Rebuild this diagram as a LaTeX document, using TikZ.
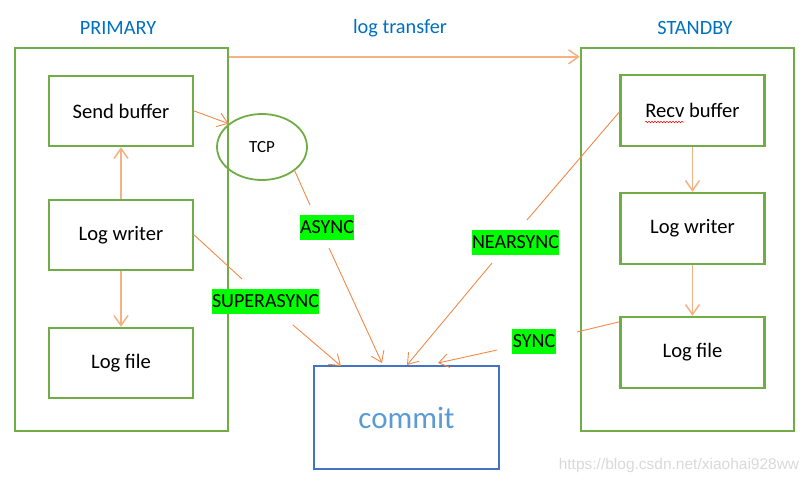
\documentclass[tikz,border=0pt]{standalone}
\usepackage{fontspec}
\setmainfont{Carlito}
\newfontfamily\wmfont{Liberation Sans}
\usetikzlibrary{arrows.meta,shapes.geometric,decorations.pathmorphing}
\definecolor{boxgreen}{HTML}{70AD47}
\definecolor{arrowor}{HTML}{F08A4B}
\definecolor{arrowlt}{HTML}{F4B183}
\definecolor{titleblue}{HTML}{0070C0}
\definecolor{commitblue}{HTML}{4472C4}
\definecolor{committext}{HTML}{5B9BD5}
\definecolor{labelgreen}{HTML}{00FF00}
\definecolor{wmgray}{HTML}{D9D9D9}
\begin{document}
\begin{tikzpicture}[x=1pt,y=-1pt,
 outerbox/.style={draw=boxgreen,line width=2.4pt,minimum width=213pt,minimum height=383pt,inner sep=0pt},
 innerbox/.style={draw=boxgreen,line width=2.4pt,minimum width=144pt,minimum height=70pt,font=\fontsize{20.6}{24}\selectfont,inner sep=0pt},
 titletext/.style={text=titleblue,font=\fontsize{20.3}{24}\selectfont,inner sep=0pt},
 modelabel/.style={fill=labelgreen,font=\fontsize{20}{24}\selectfont,inner xsep=0.5pt,inner ysep=0pt,minimum height=25pt},
 conn/.style={draw=arrowor,line width=0.9pt},
 flow/.style={draw=arrowlt,line width=1.5pt},
 tipv/.style={-{Straight Barb[length=10pt,width=14pt]}}
]
\useasboundingbox (0,0) rectangle (812,483);

% titles
\node[titletext] (ptitle) at (118,28) {PRIMARY};
\node[titletext] (ltitle) at (400,28) {log transfer};
\node[titletext] (stitle) at (695,28) {STANDBY};

% outer boxes
\node[outerbox] (P) at (121.5,239.5) {};
\node[outerbox] (S) at (687.5,239.5) {};

% primary inner boxes
\node[innerbox] (sb1) at (121,111) {\raisebox{-1.5pt}{Send buffer}};
\node[innerbox] (lw1) at (121,235) {\raisebox{-1.5pt}{Log writer}};
\node[innerbox] (lf1) at (121,363) {\raisebox{-1.5pt}{Log file}};

% standby inner boxes
\node[innerbox,minimum height=71pt] (rb) at (692.5,110.5) {\raisebox{-1pt}{Recv buffer}};
\node[innerbox,minimum height=71pt] (lw2) at (692.5,228.5) {\raisebox{-1.5pt}{Log writer}};
\node[innerbox,minimum height=71pt] (lf2) at (692.5,352.5) {\raisebox{-1.5pt}{Log file}};

% spell-check underline under "Recv"
\coordinate (wv1) at (645,122);
\coordinate (wv2) at (684,122);
\draw[red,line width=0.5pt,decorate,decoration={snake,amplitude=0.8pt,segment length=3pt}] (wv1) -- (wv2);

% TCP
\node[ellipse,draw=boxgreen,line width=1.8pt,minimum width=90pt,minimum height=66pt,inner sep=0pt,font=\fontsize{17}{20}\selectfont] (tcp) at (262,147) {TCP};

% commit
\node[draw=commitblue,line width=1.8pt,minimum width=185pt,minimum height=103pt,inner sep=0pt,text=committext,font=\fontsize{31}{36}\selectfont] (commit) at (406.5,417.5) {commit};

% mode labels
\node[modelabel] (async) at (327,227) {ASYNC};
\node[modelabel] (nearsync) at (515.5,242) {NEARSYNC};
\node[modelabel] (superasync) at (265.5,301.5) {SUPERASYNC};
\node[modelabel] (sync) at (534,341) {SYNC};

% flows inside boxes
\draw[flow,tipv] (lw1.north) -- (sb1.south);
\draw[flow,tipv] (lw1.south) -- (lf1.north);
\draw[flow,tipv] (rb.south) -- (lw2.north);
\draw[flow,tipv] (lw2.south) -- (lf2.north);
\draw[flow,tipv] ([yshift=-10pt]P.north east) -- ([yshift=-10pt]S.north west);
\draw[conn,tipv] (sb1.east) -- (tcp.145);

% free ends of connectors
\coordinate (a1) at (310,205);
\coordinate (a2) at (329,248);
\coordinate (a3) at (382,363);
\coordinate (sa1) at (242,279);
\coordinate (sa2) at (293,325);
\coordinate (sa3) at (341,366);
\coordinate (n1) at (527,220);
\coordinate (n2) at (492,263);
\coordinate (n3) at (407,365);
\coordinate (s1) at (577,332);
\coordinate (s2) at (497,350);
\coordinate (s3) at (438,363);

% ASYNC
\draw[conn] (tcp.-36) -- (a1);
\draw[conn,tipv] (a2) -- (a3);
% SUPERASYNC
\draw[conn] (lw1.east) -- (sa1);
\draw[conn,tipv] (sa2) -- (sa3);
% NEARSYNC
\draw[conn] ([yshift=-1.5pt]rb.west) -- (n1);
\draw[conn,tipv] (n2) -- (n3);
% SYNC
\draw[conn] ([yshift=-6pt]lf2.north west) -- (s1);
\draw[conn,tipv] (s2) -- (s3);

% watermark
\node[text=wmgray,font=\wmfont\fontsize{15.5}{18}\selectfont,inner sep=0pt] (wm) at (679,465) {https://blog.csdn.net/xiaohai928ww};
\end{tikzpicture}
\end{document}
